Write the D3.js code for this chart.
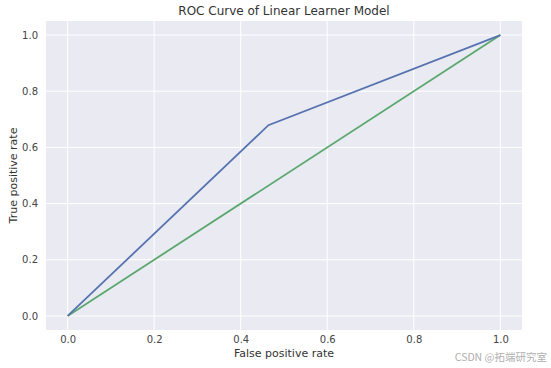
<!DOCTYPE html>
<html>
<meta charset="utf-8" />
<head>
<title>ROC Curve</title>
<style>
  body { margin: 0; background: #fff; }
  text { font-family: "DejaVu Sans", sans-serif; }
</style>
</head>
<body>
<div id="chart"></div>
<script src="https://cdn.jsdelivr.net/npm/d3@7"></script>
<script>
var fpr = [0.0, 0.464, 1.0];
var tpr = [0.0, 0.679, 1.0];
var chanceX = [0.0, 1.0];
var chanceY = [0.0, 1.0];
var xTicks = [0.0, 0.2, 0.4, 0.6, 0.8, 1.0];
var yTicks = [0.0, 0.2, 0.4, 0.6, 0.8, 1.0];

var width = 551, height = 368;
// note: "top" is taken by window.top, so use plot* names
var plotLeft = 46, plotRight = 522, plotTop = 21, plotBottom = 330;

var svg = d3.select("#chart").append("svg").attr("width", width).attr("height", height);

var x = d3.scaleLinear().domain([-0.05, 1.05]).range([plotLeft, plotRight]);
var y = d3.scaleLinear().domain([-0.05, 1.05]).range([plotBottom, plotTop]);

svg.append("rect").attr("x", plotLeft).attr("y", plotTop)
  .attr("width", plotRight - plotLeft).attr("height", plotBottom - plotTop).attr("fill", "#eaeaf2");

// grid
svg.append("g").selectAll("line").data(xTicks).enter().append("line")
  .attr("x1", function(d) { return x(d); }).attr("x2", function(d) { return x(d); })
  .attr("y1", plotTop).attr("y2", plotBottom).attr("stroke", "#fff").attr("stroke-width", 1);
svg.append("g").selectAll("line").data(yTicks).enter().append("line")
  .attr("y1", function(d) { return y(d); }).attr("y2", function(d) { return y(d); })
  .attr("x1", plotLeft).attr("x2", plotRight).attr("stroke", "#fff").attr("stroke-width", 1);

// axes (labels only)
var xAxis = svg.append("g").attr("transform", "translate(0," + plotBottom + ")")
  .call(d3.axisBottom(x).tickValues(xTicks).tickFormat(d3.format(".1f")).tickSize(0).tickPadding(6));
var yAxis = svg.append("g").attr("transform", "translate(" + plotLeft + ",0)")
  .call(d3.axisLeft(y).tickValues(yTicks).tickFormat(d3.format(".1f")).tickSize(0).tickPadding(8));
[xAxis, yAxis].forEach(function(a) {
  a.select(".domain").remove();
  a.selectAll("text").attr("fill", "#444").style("font-size", "10px").style("font-family", "DejaVu Sans, sans-serif");
});

var line = d3.line().x(function(d) { return x(d[0]); }).y(function(d) { return y(d[1]); });

svg.append("path").datum(d3.zip(chanceX, chanceY)).attr("d", line)
  .attr("fill", "none").attr("stroke", "#5aa86e").attr("stroke-width", 1.8);
svg.append("path").datum(d3.zip(fpr, tpr)).attr("d", line)
  .attr("fill", "none").attr("stroke", "#5673b0").attr("stroke-width", 1.8);

svg.append("text").attr("x", (plotLeft + plotRight) / 2).attr("y", 15).attr("text-anchor", "middle")
  .attr("fill", "#333").style("font-size", "12px").text("ROC Curve of Linear Learner Model");
svg.append("text").attr("x", (plotLeft + plotRight) / 2).attr("y", 357).attr("text-anchor", "middle")
  .attr("fill", "#333").style("font-size", "11px").text("False positive rate");
svg.append("text").attr("transform", "translate(17," + ((plotTop + plotBottom) / 2) + ") rotate(-90)").attr("text-anchor", "middle")
  .attr("fill", "#333").style("font-size", "11px").text("True positive rate");

svg.append("text").attr("x", 547).attr("y", 361).attr("text-anchor", "end")
  .attr("fill", "#b0b0b0").style("font-size", "10.5px").style("font-family", "Noto Sans CJK SC, sans-serif").text("CSDN @拓端研究室");
</script>
</body>
</html>
